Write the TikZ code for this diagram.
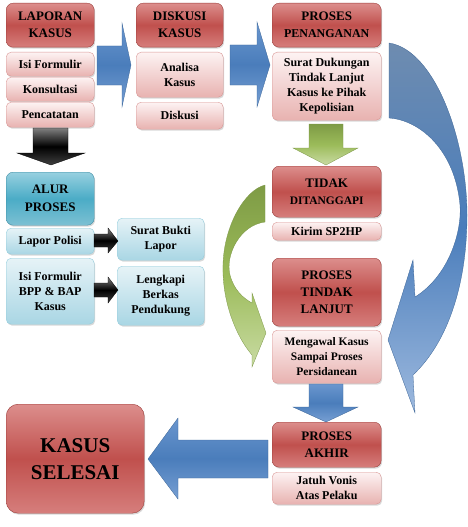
\documentclass[tikz,border=0pt]{standalone}
\usepackage{fontspec}
\setmainfont{Liberation Serif}[BoldFont={Liberation Serif Bold}]
\newfontfamily\boxfont{Liberation Serif}[BoldFont={Liberation Serif Bold}]
\usetikzlibrary{shadows}
\definecolor{hTop}{HTML}{DC8E8C}
\definecolor{hMid}{HTML}{C0504D}
\definecolor{hBot}{HTML}{D67E7C}
\definecolor{hLine}{HTML}{9B3B38}
\definecolor{sTop}{HTML}{FDF3F3}
\definecolor{sBot}{HTML}{E8B2B0}
\definecolor{sLine}{HTML}{D99694}
\definecolor{bTop}{HTML}{97D0E0}
\definecolor{bMid}{HTML}{4BACC6}
\definecolor{bBot}{HTML}{7CC0D3}
\definecolor{bLine}{HTML}{3C8CA3}
\definecolor{cTop}{HTML}{E6F3F7}
\definecolor{cBot}{HTML}{A9D6E4}
\definecolor{cLine}{HTML}{93CDDD}
\definecolor{arTop}{HTML}{6A96CE}
\definecolor{arMid}{HTML}{4A7DBB}
\definecolor{arBot}{HTML}{779FD3}
\definecolor{cvTop}{HTML}{6E8CB0}
\definecolor{cvBot}{HTML}{9DB9DE}
\definecolor{gTop}{HTML}{7E9B45}
\definecolor{gMid}{HTML}{9BBB59}
\definecolor{gBot}{HTML}{C9DBA3}
\begin{document}
\begin{tikzpicture}[x=1pt,y=-1pt,
  box/.style={anchor=north west,align=center,inner sep=0pt,
    font=\boxfont\bfseries\fontsize{12}{15}\selectfont,
    drop shadow={shadow xshift=1pt,shadow yshift=-1.5pt,opacity=0.3}},
  hdr/.style={box,rounded corners=7pt,draw=hLine,line width=0.4pt,
    top color=hTop,bottom color=hBot,middle color=hMid,
    font=\boxfont\bfseries\fontsize{13}{17}\selectfont},
  sub/.style={box,rounded corners=5pt,draw=sLine,line width=0.4pt,
    top color=sTop,bottom color=sBot},
  bhdr/.style={box,rounded corners=7pt,draw=bLine,line width=0.4pt,
    top color=bTop,bottom color=bBot,middle color=bMid,
    font=\boxfont\bfseries\fontsize{13}{18}\selectfont},
  bsub/.style={box,rounded corners=5pt,draw=cLine,line width=0.4pt,
    top color=cTop,bottom color=cBot},
  bluearrow/.style={draw=arMid!80!black,line width=0.3pt,top color=arTop,bottom color=arBot,middle color=arMid},
  greenarrow/.style={draw=gMid!80!black,line width=0.3pt,top color=gTop,bottom color=gBot,middle color=gMid},
  blackarrow/.style={draw=black,line width=0.3pt,top color=black!50,bottom color=black!75,middle color=black},
  curvblue/.style={draw=arMid!80!black,line width=0.3pt,top color=cvTop,bottom color=cvBot,middle color=arMid}
]
\path[use as bounding box] (0,0) rectangle (468,527);

% left column
\node[hdr,minimum width=88pt,minimum height=44pt] (lapH) at (6,3) {LAPORAN\\KASUS};
\node[sub,minimum width=88pt,minimum height=24pt] (lap1) at (6,52) {Isi Formulir};
\node[sub,minimum width=88pt,minimum height=24pt] (lap2) at (6,77) {Konsultasi};
\node[sub,minimum width=88pt,minimum height=25pt] (lap3) at (6,102) {Pencatatan};

% second column
\node[hdr,minimum width=87pt,minimum height=44pt] (disH) at (136,3) {DISKUSI\\KASUS};
\node[sub,minimum width=87pt,minimum height=45pt] (dis1) at (136,52) {Analisa\\Kasus};
\node[sub,minimum width=87pt,minimum height=27pt] (dis2) at (136,102) {Diskusi};

% right column
\node[hdr,minimum width=109pt,minimum height=44pt] (proH) at (272,3) {PROSES\\{\fontsize{12}{17}\selectfont PENANGANAN}};
\node[sub,minimum width=109pt,minimum height=68pt] (pro1) at (272,52) {Surat Dukungan\\Tindak Lanjut\\Kasus ke Pihak\\Kepolisian};
\node[hdr,minimum width=109pt,minimum height=51pt] (tidH) at (272,166) {TIDAK\\{\fontsize{11.5}{19}\selectfont DITANGGAPI}};
\node[sub,minimum width=109pt,minimum height=18pt] (tid1) at (272,222) {Kirim SP2HP};
\node[hdr,minimum width=109pt,minimum height=68pt] (tlH) at (272,258) {PROSES\\TINDAK\\LANJUT};
\node[sub,minimum width=109pt,minimum height=53pt,font=\boxfont\bfseries\fontsize{11.5}{15}\selectfont] (tl1) at (272,330) {Mengawal Kasus\\Sampai Proses\\Persidanean};
\node[hdr,minimum width=109pt,minimum height=45pt] (akH) at (272,422) {PROSES\\AKHIR};
\node[sub,minimum width=109pt,minimum height=32pt] (ak1) at (272,472) {Jatuh Vonis\\Atas Pelaku};

% final
\node[hdr,rounded corners=12pt,minimum width=138pt,minimum height=109pt,font=\boxfont\bfseries\fontsize{21}{27}\selectfont] (selesai) at (6,404) {KASUS\\SELESAI};

% blue block
\node[bhdr,minimum width=88pt,minimum height=53pt] (aluH) at (6,172) {ALUR\\PROSES};
\node[bsub,minimum width=88pt,minimum height=26pt] (alu1) at (6,228) {Lapor Polisi};
\node[bsub,minimum width=88pt,minimum height=66pt] (alu2) at (6,258) {Isi Formulir\\BPP \& BAP\\Kasus};
\node[bsub,minimum width=87pt,minimum height=42pt] (bukti) at (117,218) {Surat Bukti\\Lapor};
\node[bsub,minimum width=87pt,minimum height=59pt] (lengkap) at (117,266) {Lengkapi\\Berkas\\Pendukung};

% block arrows
\draw[bluearrow] (97,46) -- (122,46) -- (122,23) -- (131,65) -- (122,107) -- (122,85) -- (97,85) -- cycle;
\draw[bluearrow] (230,45) -- (257,45) -- (257,22) -- (270,65) -- (257,107) -- (257,85) -- (230,85) -- cycle;
\draw[blackarrow] (33,128) -- (68,128) -- (68,153) -- (85,153) -- (51,165) -- (17,153) -- (33,153) -- cycle;
\draw[blackarrow] (94,234) -- (108,234) -- (108,228) -- (118,241) -- (108,253) -- (108,247) -- (94,247) -- cycle;
\draw[blackarrow] (94,283) -- (108,283) -- (108,277) -- (118,290) -- (108,303) -- (108,297) -- (94,297) -- cycle;
\draw[greenarrow] (309,124) -- (343,124) -- (343,148) -- (358,148) -- (326,165) -- (293,148) -- (309,148) -- cycle;
\draw[bluearrow] (309,384) -- (343,384) -- (343,407) -- (358,407) -- (326,422) -- (293,407) -- (309,407) -- cycle;
\draw[bluearrow] (268,440) -- (178,440) -- (178,418) -- (148,459) -- (178,499) -- (178,478) -- (268,478) -- cycle;

% curved arrows
\draw[curvblue] (389,43) .. controls (435,50) and (467,140) .. (467,215)
  .. controls (467,290) and (445,345) .. (413,375)
  -- (415,413) -- (388,340) -- (413,260) -- (415,297)
  .. controls (450,275) and (462,230) .. (460,205)
  .. controls (455,150) and (420,120) .. (389,118) -- cycle;
\draw[greenarrow] (265,185) .. controls (245,190) and (224,225) .. (223,265)
  .. controls (222,300) and (235,335) .. (252,355)
  -- (252,367) -- (266,333) -- (252,293) -- (252,303)
  .. controls (243,298) and (234,290) .. (230,275)
  .. controls (225,255) and (240,225) .. (265,222) -- cycle;
\end{tikzpicture}
\end{document}
